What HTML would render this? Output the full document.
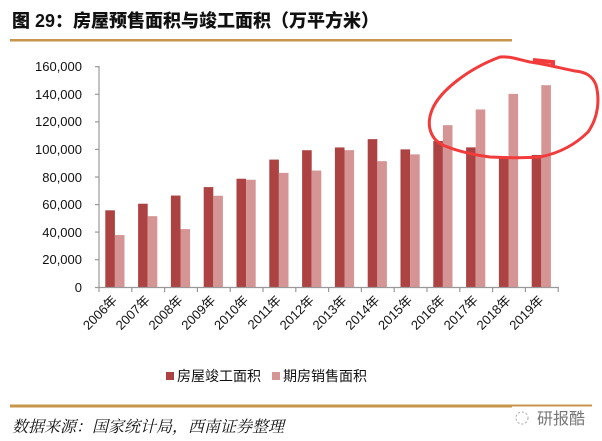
<!DOCTYPE html>
<html><head><meta charset="utf-8"><style>
html,body{margin:0;padding:0;background:#fff;}
svg{display:block;}
</style></head><body>
<svg width="602" height="441" xmlns="http://www.w3.org/2000/svg" font-family="'Liberation Sans','Noto Sans CJK SC',sans-serif">
<rect width="602" height="441" fill="#fff"/>
<text x="12" y="27" font-size="18" font-weight="900" fill="#111">图 29：房屋预售面积与竣工面积（万平方米）</text>
<rect x="10" y="39" width="502" height="2.5" fill="#c8964a"/>
<g font-size="13" fill="#111" text-anchor="end">
<text x="82" y="292">0</text>
<text x="82" y="264">20,000</text>
<text x="82" y="237">40,000</text>
<text x="82" y="209">60,000</text>
<text x="82" y="182">80,000</text>
<text x="82" y="154">100,000</text>
<text x="82" y="126">120,000</text>
<text x="82" y="99">140,000</text>
<text x="82" y="71">160,000</text>
</g>
<g id="bars"></g>
<script>
var d=[55831,60607,66545,72677,78744,92620,99425,101435,107459,100039,106128,101486,93700,96000];
var s=[37900,51600,42200,66400,78000,83000,84700,99500,91500,96400,117600,129000,140300,146600];
var g=document.getElementById('bars'),ns='http://www.w3.org/2000/svg';
var y0=287.3,k=27.575/20000,cw=32.8,x0=99;
function r(x,y,w,h,c){var e=document.createElementNS(ns,'rect');e.setAttribute('x',x);e.setAttribute('y',y);e.setAttribute('width',w);e.setAttribute('height',h);e.setAttribute('fill',c);g.appendChild(e);}
for(var i=0;i<14;i++){var cx=x0+i*cw;
var h1=d[i]*k,h2=s[i]*k;
r(cx+6.3,y0-h1,9.6,h1,'#ac4242');
r(cx+15.9,y0-h2,9.6,h2,'#d59594');
var t=document.createElementNS(ns,'text');t.setAttribute('font-size','13');t.setAttribute('text-anchor','end');t.setAttribute('fill','#111');
t.setAttribute('transform','translate('+(cx+19)+',301) rotate(-45)');t.textContent=(2006+i)+'年';g.appendChild(t);}
</script>
<g stroke="#999" stroke-width="1.2" fill="none">
<line x1="99" y1="66" x2="99" y2="288"/>
<line x1="95" y1="287.5" x2="559" y2="287.5"/>
<line x1="95" y1="66.7" x2="99" y2="66.7"/><line x1="95" y1="94.3" x2="99" y2="94.3"/><line x1="95" y1="121.9" x2="99" y2="121.9"/><line x1="95" y1="149.4" x2="99" y2="149.4"/><line x1="95" y1="177" x2="99" y2="177"/><line x1="95" y1="204.6" x2="99" y2="204.6"/><line x1="95" y1="232.1" x2="99" y2="232.1"/><line x1="95" y1="259.7" x2="99" y2="259.7"/>
<path d="M99 287v5M131.8 287v5M164.6 287v5M197.4 287v5M230.2 287v5M263 287v5M295.8 287v5M328.6 287v5M361.4 287v5M394.2 287v5M427 287v5M459.8 287v5M492.6 287v5M525.4 287v5M558.2 287v5"/>
</g>
<path d="M500 57 C470 68 440 90 432 110 C426 125 430 140 445 146 C460 152 475 155 490 157 C510 158 525 158 540 157 C560 153 575 145 588 132 C598 118 600 100 596 85 C592 75 585 72 575 71 C560 68 545 64 530 62 C520 60 510 56 500 57 Z" fill="none" stroke="#f23c3c" stroke-width="3"/>
<path d="M533 60 L553 62 L553 67" fill="none" stroke="#f23c3c" stroke-width="4"/>
<rect x="166" y="372" width="8" height="8" fill="#ac4242"/>
<text x="177" y="381" font-size="14" fill="#111">房屋竣工面积</text>
<rect x="272" y="372" width="8" height="8" fill="#d59594"/>
<text x="283" y="381" font-size="14" fill="#111">期房销售面积</text>
<rect x="10" y="404.5" width="502" height="3" fill="#c8964a"/>
<rect x="512" y="404.5" width="80" height="2" fill="#c8964a"/>
<text x="12" y="432" font-size="16" font-style="italic" fill="#111" font-family="'Liberation Serif','Noto Serif CJK SC',serif">数据来源：国家统计局，西南证券整理</text>
<circle cx="522" cy="418" r="6" fill="none" stroke="#aaa" stroke-dasharray="2,2"/>
<text x="537" y="424" font-size="16" fill="#777">研报酷</text>
</svg>
</body></html>
